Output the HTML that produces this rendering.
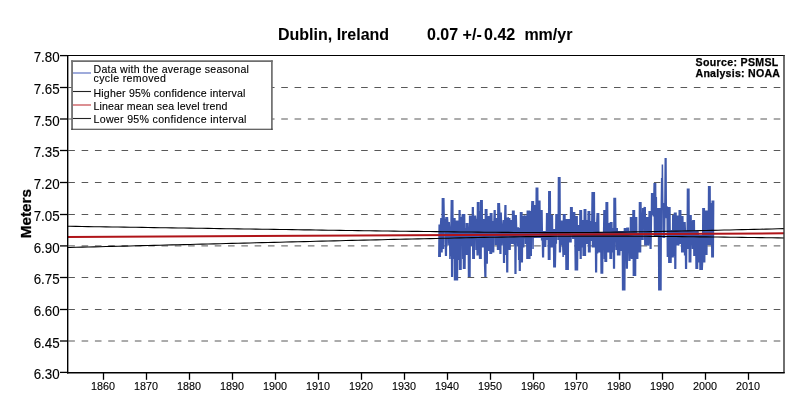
<!DOCTYPE html><html><head><meta charset="utf-8"><style>html,body{margin:0;padding:0;background:#fff;}svg{display:block;will-change:transform}text{font-family:"Liberation Sans",Arial,sans-serif;stroke:#000;stroke-width:0.12px}text.b{stroke-width:0.25px}text.t{stroke-width:0.06px}</style></head><body>
<svg width="800" height="400" viewBox="0 0 800 400">
<rect width="800" height="400" fill="#fff"/>
<line x1="68.3" y1="87.5" x2="783" y2="87.5" stroke="#585858" stroke-width="1" stroke-dasharray="6.6 6.71"/>
<line x1="68.3" y1="119.0" x2="783" y2="119.0" stroke="#585858" stroke-width="1" stroke-dasharray="6.6 6.71"/>
<line x1="68.3" y1="150.5" x2="783" y2="150.5" stroke="#585858" stroke-width="1" stroke-dasharray="6.6 6.71"/>
<line x1="68.3" y1="182.5" x2="783" y2="182.5" stroke="#585858" stroke-width="1" stroke-dasharray="6.6 6.71"/>
<line x1="68.3" y1="214.5" x2="783" y2="214.5" stroke="#585858" stroke-width="1" stroke-dasharray="6.6 6.71"/>
<line x1="68.3" y1="245.9" x2="783" y2="245.9" stroke="#585858" stroke-width="1" stroke-dasharray="6.6 6.71"/>
<line x1="68.3" y1="277.5" x2="783" y2="277.5" stroke="#585858" stroke-width="1" stroke-dasharray="6.6 6.71"/>
<line x1="68.3" y1="309.5" x2="783" y2="309.5" stroke="#585858" stroke-width="1" stroke-dasharray="6.6 6.71"/>
<line x1="68.3" y1="341.0" x2="783" y2="341.0" stroke="#585858" stroke-width="1" stroke-dasharray="6.6 6.71"/>
<polyline points="438.80,256.9 439.16,224.4 439.52,256.9 439.88,224.4 440.23,256.9 440.59,224.4 440.95,218.0 441.31,252.5 441.67,218.0 442.03,252.5 442.38,198.0 442.74,249.0 443.10,198.0 443.46,249.0 443.82,198.0 444.18,218.8 444.53,231.5 444.89,218.8 445.25,238.4 445.61,256.0 445.97,217.0 446.33,256.0 446.68,217.0 447.04,229.1 447.40,217.0 447.76,222.0 448.12,245.6 448.48,222.0 448.83,242.8 449.19,222.0 449.55,228.0 449.91,259.0 450.27,228.0 450.63,256.2 450.98,228.0 451.34,200.0 451.70,277.0 452.06,200.0 452.42,277.0 452.78,200.0 453.13,259.0 453.49,218.0 453.85,259.0 454.21,218.0 454.57,280.6 454.93,218.0 455.28,280.6 455.64,222.0 456.00,280.6 456.36,220.6 456.72,280.6 457.08,220.6 457.43,280.6 457.79,220.6 458.15,260.0 458.51,220.6 458.87,260.0 459.23,210.0 459.58,270.0 459.94,210.0 460.30,270.0 460.66,217.0 461.02,270.0 461.38,217.0 461.73,227.1 462.09,217.0 462.45,214.0 462.81,259.0 463.17,214.0 463.53,269.0 463.88,214.0 464.24,269.0 464.60,214.0 464.96,269.0 465.32,236.5 465.68,228.0 466.03,255.0 466.39,223.0 466.75,255.0 467.11,223.0 467.47,255.0 467.83,223.0 468.18,230.0 468.54,277.0 468.90,230.0 469.26,277.0 469.62,215.6 469.98,277.0 470.33,215.6 470.69,246.0 471.05,215.6 471.41,246.0 471.77,215.6 472.13,246.0 472.48,207.0 472.84,259.0 473.20,207.0 473.56,259.0 473.92,215.6 474.28,259.0 474.63,215.6 474.99,239.8 475.35,215.6 475.71,219.0 476.07,250.0 476.43,219.0 476.78,232.0 477.14,255.6 477.50,202.0 477.86,255.6 478.22,202.0 478.58,250.0 478.93,202.0 479.29,250.0 479.65,259.0 480.01,211.0 480.37,259.0 480.73,200.0 481.08,259.0 481.44,200.0 481.80,247.5 482.16,200.0 482.52,247.5 482.88,219.0 483.23,247.5 483.59,219.0 483.95,238.8 484.31,219.0 484.67,265.2 485.03,277.0 485.38,209.0 485.74,277.0 486.10,209.0 486.46,263.8 486.82,209.0 487.18,263.8 487.53,225.0 487.89,251.0 488.25,216.0 488.61,251.0 488.97,216.0 489.33,251.0 489.68,216.0 490.04,254.0 490.40,213.0 490.76,254.0 491.12,213.0 491.48,254.0 491.83,213.0 492.19,252.5 492.55,221.0 492.91,252.5 493.27,221.0 493.63,252.5 493.98,221.0 494.34,210.0 494.70,230.5 495.06,210.0 495.42,245.0 495.78,218.0 496.13,245.0 496.49,218.0 496.85,245.0 497.21,218.0 497.57,250.0 497.93,203.0 498.28,250.0 498.64,203.0 499.00,250.0 499.36,203.0 499.72,212.5 500.08,254.0 500.43,212.5 500.79,254.0 501.15,212.5 501.51,225.0 501.87,245.4 502.23,225.0 502.58,243.5 502.94,225.0 503.30,220.0 503.66,263.0 504.02,220.0 504.38,263.0 504.73,220.0 505.09,205.0 505.45,255.0 505.81,205.0 506.17,255.0 506.53,217.5 506.88,272.5 507.24,217.5 507.60,272.5 507.96,217.5 508.32,218.0 508.68,249.8 509.03,218.0 509.39,250.0 509.75,218.0 510.11,250.0 510.47,220.0 510.83,244.0 511.18,220.0 511.54,244.0 511.90,220.0 512.26,244.0 512.62,210.6 512.98,244.0 513.33,210.6 513.69,244.0 514.05,210.6 514.41,245.6 514.77,215.0 515.13,274.0 515.48,215.0 515.84,274.0 516.20,215.0 516.56,228.0 516.92,241.4 517.28,228.0 517.63,246.6 517.99,228.0 518.35,228.0 518.71,260.0 519.07,228.0 519.43,271.0 519.78,228.0 520.14,271.0 520.50,212.0 520.86,262.5 521.22,212.0 521.58,262.5 521.93,212.0 522.29,262.5 522.65,216.0 523.01,247.5 523.37,216.0 523.73,247.5 524.08,216.0 524.44,215.6 524.80,238.6 525.16,215.6 525.52,244.0 525.88,215.6 526.23,244.0 526.59,215.6 526.95,259.0 527.31,210.6 527.67,259.0 528.03,210.6 528.38,259.0 528.74,210.6 529.10,259.0 529.46,210.6 529.82,259.0 530.18,211.0 530.53,256.0 530.89,211.0 531.25,256.0 531.61,211.0 531.97,201.0 532.33,229.3 532.68,201.0 533.04,249.0 533.40,201.0 533.76,238.0 534.12,205.0 534.48,238.0 534.83,205.0 535.19,238.0 535.55,205.0 535.91,238.0 536.27,187.5 536.63,238.0 536.98,187.5 537.34,238.0 537.70,187.5 538.06,238.0 538.42,200.6 538.78,238.0 539.13,200.6 539.49,238.0 539.85,200.6 540.21,238.0 540.57,215.0 540.93,238.0 541.28,210.0 541.64,240.6 542.00,210.0 542.36,238.6 542.72,257.5 543.08,231.0 543.43,257.5 543.79,231.0 544.15,247.0 544.51,231.0 544.87,247.0 545.23,231.0 545.58,247.0 545.94,231.0 546.30,240.0 546.66,213.0 547.02,240.0 547.38,213.0 547.73,240.0 548.09,213.0 548.45,260.0 548.81,191.0 549.17,260.0 549.53,191.0 549.88,260.0 550.24,191.0 550.60,247.5 550.96,215.0 551.32,247.5 551.68,215.0 552.03,247.5 552.39,215.0 552.75,247.5 553.11,233.4 553.47,229.0 553.83,267.5 554.18,229.0 554.54,267.5 554.90,229.0 555.26,267.5 555.62,249.0 555.98,214.0 556.33,243.7 556.69,214.0 557.05,223.9 557.41,214.0 557.77,219.7 558.13,240.0 558.48,177.0 558.84,240.0 559.20,177.0 559.56,252.5 559.92,177.0 560.28,252.5 560.63,245.0 560.99,220.6 561.35,245.0 561.71,220.6 562.07,245.0 562.43,220.6 562.78,246.8 563.14,257.0 563.50,214.0 563.86,255.0 564.22,214.0 564.58,255.0 564.93,214.0 565.29,255.0 565.65,219.0 566.01,270.0 566.37,219.0 566.73,270.0 567.08,219.0 567.44,270.0 567.80,219.0 568.16,270.0 568.52,219.0 568.88,242.5 569.23,219.0 569.59,242.5 569.95,219.0 570.31,242.5 570.67,207.0 571.03,242.5 571.38,207.0 571.74,222.5 572.10,207.0 572.46,227.2 572.82,239.0 573.18,212.0 573.53,239.0 573.89,212.0 574.25,239.0 574.61,212.0 574.97,239.0 575.33,270.6 575.68,216.0 576.04,270.6 576.40,216.0 576.76,270.6 577.12,216.0 577.48,270.6 577.83,225.0 578.19,251.0 578.55,225.0 578.91,251.0 579.27,225.0 579.63,251.0 579.98,210.0 580.34,259.0 580.70,210.0 581.06,259.0 581.42,210.0 581.78,247.5 582.13,220.0 582.49,247.5 582.85,220.0 583.21,256.0 583.57,220.0 583.93,256.0 584.28,209.0 584.64,256.0 585.00,209.0 585.36,256.0 585.72,209.0 586.08,244.0 586.43,220.0 586.79,244.0 587.15,220.0 587.51,244.0 587.87,235.0 588.23,211.0 588.58,252.5 588.94,211.0 589.30,252.5 589.66,211.0 590.02,252.5 590.38,221.0 590.73,237.7 591.09,221.0 591.45,240.9 591.81,221.0 592.17,192.0 592.53,247.5 592.88,192.0 593.24,247.5 593.60,192.0 593.96,247.5 594.32,192.0 594.68,247.5 595.03,233.1 595.39,222.0 595.75,272.5 596.11,222.0 596.47,272.5 596.83,222.0 597.18,213.0 597.54,253.5 597.90,213.0 598.26,252.5 598.62,213.0 598.98,252.5 599.33,232.0 599.69,252.5 600.05,232.0 600.41,252.5 600.77,232.0 601.13,273.8 601.48,232.0 601.84,273.8 602.20,232.0 602.56,273.8 602.92,232.0 603.28,244.6 603.63,232.0 603.99,210.0 604.35,259.0 604.71,210.0 605.07,262.0 605.43,210.0 605.78,262.0 606.14,202.0 606.50,262.0 606.86,202.0 607.22,252.5 607.58,202.0 607.93,252.5 608.29,223.0 608.65,252.5 609.01,223.0 609.37,252.5 609.73,223.0 610.08,259.0 610.44,222.0 610.80,259.0 611.16,222.0 611.52,259.0 611.88,222.0 612.23,252.5 612.59,228.0 612.95,252.5 613.31,228.0 613.67,268.8 614.03,197.8 614.38,268.8 614.74,197.8 615.10,237.5 615.46,197.8 615.82,228.0 616.18,250.0 616.53,228.0 616.89,250.0 617.25,228.0 617.61,255.6 617.97,231.0 618.33,255.6 618.68,231.0 619.04,255.6 619.40,231.0 619.76,255.6 620.12,231.0 620.48,251.0 620.83,231.0 621.19,251.0 621.55,231.0 621.91,251.0 622.27,231.0 622.63,290.5 622.98,231.0 623.34,290.5 623.70,231.0 624.06,290.5 624.42,228.0 624.78,290.5 625.13,228.0 625.49,257.6 625.85,228.0 626.21,238.5 626.57,268.8 626.93,227.5 627.28,268.8 627.64,227.5 628.00,236.9 628.36,227.5 628.72,238.6 629.08,261.0 629.43,231.0 629.79,261.0 630.15,256.0 630.51,217.0 630.87,256.0 631.23,217.0 631.58,259.0 631.94,217.0 632.30,259.0 632.66,248.2 633.02,210.0 633.38,276.0 633.73,210.0 634.09,276.0 634.45,210.0 634.81,276.0 635.17,217.0 635.53,276.0 635.88,217.0 636.24,259.0 636.60,217.0 636.96,259.0 637.32,233.0 637.68,259.0 638.03,233.0 638.39,252.5 638.75,233.0 639.11,252.5 639.47,202.0 639.83,252.5 640.18,202.0 640.54,252.5 640.90,202.0 641.26,221.0 641.62,240.0 641.98,221.0 642.33,240.0 642.69,208.0 643.05,240.0 643.41,208.0 643.77,225.4 644.13,208.0 644.48,207.0 644.84,245.6 645.20,207.0 645.56,245.6 645.92,217.0 646.28,245.6 646.63,217.0 646.99,245.6 647.35,217.0 647.71,245.6 648.07,217.0 648.43,245.6 648.78,242.0 649.14,211.0 649.50,242.0 649.86,211.0 650.22,249.0 650.58,211.0 650.93,249.0 651.29,225.3 651.65,193.0 652.01,209.7 652.37,193.0 652.73,215.2 653.08,193.0 653.44,216.5 653.80,201.0 654.16,183.0 654.52,237.0 654.88,183.0 655.23,237.0 655.59,183.0 655.95,237.0 656.31,197.0 656.67,237.0 657.03,208.0 657.38,237.0 657.74,208.0 658.10,237.0 658.46,208.0 658.82,290.5 659.18,208.0 659.53,290.5 659.89,208.0 660.25,290.5 660.61,212.0 660.97,290.5 661.33,202.6 661.68,178.0 662.04,205.0 662.40,164.4 662.76,204.9 663.12,238.0 663.48,203.0 663.83,238.0 664.19,203.0 664.55,238.0 664.91,203.0 665.27,158.0 665.63,217.4 665.98,158.0 666.34,218.3 666.70,207.0 667.06,207.0 667.42,257.0 667.78,207.0 668.13,257.0 668.49,207.0 668.85,263.0 669.21,207.0 669.57,263.0 669.93,207.0 670.28,263.0 670.64,230.0 671.00,263.0 671.36,230.0 671.72,257.5 672.08,230.0 672.43,257.5 672.79,215.0 673.15,257.5 673.51,215.0 673.87,255.9 674.23,215.0 674.58,212.5 674.94,269.0 675.30,212.5 675.66,269.0 676.02,212.5 676.38,245.6 676.73,215.6 677.09,245.6 677.45,215.6 677.81,245.6 678.17,215.6 678.53,245.6 678.88,244.0 679.24,210.0 679.60,244.0 679.96,210.0 680.32,244.0 680.68,210.0 681.03,244.0 681.39,216.0 681.75,252.5 682.11,216.0 682.47,252.5 682.83,216.0 683.18,252.5 683.54,222.0 683.90,252.5 684.26,222.0 684.62,255.6 684.98,222.0 685.33,230.6 685.69,269.0 686.05,230.6 686.41,269.0 686.77,230.6 687.13,249.0 687.48,188.5 687.84,249.0 688.20,188.5 688.56,249.0 688.92,188.5 689.28,262.5 689.63,215.0 689.99,262.5 690.35,215.0 690.71,262.5 691.07,215.0 691.43,243.2 691.78,221.0 692.14,237.9 692.50,249.0 692.86,220.0 693.22,249.0 693.58,220.0 693.93,256.0 694.29,220.0 694.65,256.0 695.01,230.6 695.37,256.0 695.73,230.6 696.08,269.0 696.44,230.6 696.80,269.0 697.16,230.6 697.52,269.0 697.88,230.6 698.23,235.0 698.59,262.5 698.95,235.0 699.31,262.5 699.67,235.0 700.03,270.0 700.38,235.0 700.74,270.0 701.10,235.0 701.46,270.0 701.82,235.0 702.18,270.0 702.53,262.5 702.89,208.0 703.25,262.5 703.61,208.0 703.97,262.5 704.33,208.0 704.68,262.5 705.04,210.6 705.40,255.0 705.76,210.6 706.12,255.0 706.48,210.6 706.83,255.0 707.19,210.6 707.55,245.0 707.91,210.6 708.27,245.0 708.63,186.0 708.98,245.0 709.34,186.0 709.70,245.0 710.06,186.0 710.42,245.0 710.78,203.0 711.13,245.0 711.49,203.0 711.85,257.5 712.21,200.6 712.57,257.5 712.93,200.6 713.28,257.5 713.64,200.6" fill="none" stroke="#3e58ac" stroke-width="1.5" stroke-linejoin="miter" stroke-miterlimit="2"/>
<polyline points="67.5,226.28 70.0,226.32 76.0,226.41 82.0,226.50 88.0,226.59 94.0,226.69 100.0,226.78 106.0,226.87 112.0,226.96 118.0,227.05 124.0,227.14 130.0,227.23 136.0,227.32 142.0,227.41 148.0,227.50 154.0,227.60 160.0,227.69 166.0,227.78 172.0,227.87 178.0,227.96 184.0,228.05 190.0,228.14 196.0,228.23 202.0,228.32 208.0,228.41 214.0,228.50 220.0,228.59 226.0,228.68 232.0,228.77 238.0,228.86 244.0,228.95 250.0,229.03 256.0,229.12 262.0,229.21 268.0,229.30 274.0,229.39 280.0,229.48 286.0,229.57 292.0,229.65 298.0,229.74 304.0,229.83 310.0,229.92 316.0,230.00 322.0,230.09 328.0,230.18 334.0,230.26 340.0,230.35 346.0,230.43 352.0,230.52 358.0,230.60 364.0,230.69 370.0,230.77 376.0,230.85 382.0,230.94 388.0,231.02 394.0,231.10 400.0,231.18 406.0,231.26 412.0,231.34 418.0,231.42 424.0,231.50 430.0,231.57 436.0,231.65 442.0,231.72 448.0,231.79 454.0,231.87 460.0,231.93 466.0,232.00 472.0,232.07 478.0,232.13 484.0,232.19 490.0,232.25 496.0,232.30 502.0,232.36 508.0,232.40 514.0,232.45 520.0,232.49 526.0,232.52 532.0,232.55 538.0,232.57 544.0,232.59 550.0,232.60 556.0,232.60 562.0,232.59 568.0,232.58 574.0,232.55 580.0,232.52 586.0,232.48 592.0,232.44 598.0,232.38 604.0,232.32 610.0,232.25 616.0,232.17 622.0,232.08 628.0,231.99 634.0,231.90 640.0,231.80 646.0,231.69 652.0,231.58 658.0,231.47 664.0,231.35 670.0,231.24 676.0,231.11 682.0,230.99 688.0,230.86 694.0,230.74 700.0,230.61 706.0,230.47 712.0,230.34 718.0,230.21 724.0,230.07 730.0,229.93 736.0,229.80 742.0,229.66 748.0,229.52 754.0,229.38 760.0,229.24 766.0,229.09 772.0,228.95 778.0,228.81 784.0,228.66" fill="none" stroke="#000" stroke-width="1.1"/>
<polyline points="67.5,247.52 70.0,247.45 76.0,247.30 82.0,247.15 88.0,247.00 94.0,246.85 100.0,246.70 106.0,246.55 112.0,246.39 118.0,246.24 124.0,246.09 130.0,245.94 136.0,245.79 142.0,245.64 148.0,245.49 154.0,245.34 160.0,245.18 166.0,245.03 172.0,244.88 178.0,244.73 184.0,244.58 190.0,244.43 196.0,244.28 202.0,244.13 208.0,243.98 214.0,243.83 220.0,243.68 226.0,243.53 232.0,243.38 238.0,243.23 244.0,243.08 250.0,242.93 256.0,242.78 262.0,242.63 268.0,242.48 274.0,242.34 280.0,242.19 286.0,242.04 292.0,241.89 298.0,241.74 304.0,241.59 310.0,241.45 316.0,241.30 322.0,241.15 328.0,241.01 334.0,240.86 340.0,240.71 346.0,240.57 352.0,240.42 358.0,240.28 364.0,240.13 370.0,239.99 376.0,239.85 382.0,239.70 388.0,239.56 394.0,239.42 400.0,239.28 406.0,239.14 412.0,239.00 418.0,238.86 424.0,238.72 430.0,238.58 436.0,238.45 442.0,238.32 448.0,238.18 454.0,238.05 460.0,237.92 466.0,237.79 472.0,237.67 478.0,237.54 484.0,237.42 490.0,237.31 496.0,237.19 502.0,237.08 508.0,236.97 514.0,236.87 520.0,236.77 526.0,236.67 532.0,236.58 538.0,236.50 544.0,236.42 550.0,236.36 556.0,236.29 562.0,236.24 568.0,236.19 574.0,236.16 580.0,236.13 586.0,236.11 592.0,236.09 598.0,236.09 604.0,236.09 610.0,236.10 616.0,236.12 622.0,236.14 628.0,236.17 634.0,236.21 640.0,236.25 646.0,236.29 652.0,236.34 658.0,236.40 664.0,236.45 670.0,236.51 676.0,236.57 682.0,236.63 688.0,236.70 694.0,236.77 700.0,236.84 706.0,236.91 712.0,236.98 718.0,237.06 724.0,237.13 730.0,237.21 736.0,237.29 742.0,237.37 748.0,237.44 754.0,237.52 760.0,237.61 766.0,237.69 772.0,237.77 778.0,237.85 784.0,237.94" fill="none" stroke="#000" stroke-width="1.1"/>
<line x1="67.5" y1="236.9" x2="784.0" y2="233.3" stroke="#b01419" stroke-width="2.0"/>
<line x1="67" y1="55.5" x2="784.7" y2="55.5" stroke="#000" stroke-width="1.2"/>
<line x1="784.0" y1="55" x2="784.0" y2="373" stroke="#333" stroke-width="1.4"/>
<line x1="67.7" y1="55" x2="67.7" y2="373.4" stroke="#000" stroke-width="1.4"/>
<line x1="67" y1="372.7" x2="784.7" y2="372.7" stroke="#000" stroke-width="1.4"/>
<line x1="60" y1="55.60" x2="67.5" y2="55.60" stroke="#000" stroke-width="1.3"/>
<text transform="translate(59.6,62.20) scale(0.94,1)" font-size="14.2" text-anchor="end">7.80</text>
<line x1="60" y1="87.50" x2="67.5" y2="87.50" stroke="#000" stroke-width="1.3"/>
<text transform="translate(59.6,94.10) scale(0.94,1)" font-size="14.2" text-anchor="end">7.65</text>
<line x1="60" y1="119.00" x2="67.5" y2="119.00" stroke="#000" stroke-width="1.3"/>
<text transform="translate(59.6,125.60) scale(0.94,1)" font-size="14.2" text-anchor="end">7.50</text>
<line x1="60" y1="150.50" x2="67.5" y2="150.50" stroke="#000" stroke-width="1.3"/>
<text transform="translate(59.6,157.10) scale(0.94,1)" font-size="14.2" text-anchor="end">7.35</text>
<line x1="60" y1="182.50" x2="67.5" y2="182.50" stroke="#000" stroke-width="1.3"/>
<text transform="translate(59.6,189.10) scale(0.94,1)" font-size="14.2" text-anchor="end">7.20</text>
<line x1="60" y1="214.50" x2="67.5" y2="214.50" stroke="#000" stroke-width="1.3"/>
<text transform="translate(59.6,221.10) scale(0.94,1)" font-size="14.2" text-anchor="end">7.05</text>
<line x1="60" y1="245.90" x2="67.5" y2="245.90" stroke="#000" stroke-width="1.3"/>
<text transform="translate(59.6,252.50) scale(0.94,1)" font-size="14.2" text-anchor="end">6.90</text>
<line x1="60" y1="277.50" x2="67.5" y2="277.50" stroke="#000" stroke-width="1.3"/>
<text transform="translate(59.6,284.10) scale(0.94,1)" font-size="14.2" text-anchor="end">6.75</text>
<line x1="60" y1="309.50" x2="67.5" y2="309.50" stroke="#000" stroke-width="1.3"/>
<text transform="translate(59.6,316.10) scale(0.94,1)" font-size="14.2" text-anchor="end">6.60</text>
<line x1="60" y1="341.00" x2="67.5" y2="341.00" stroke="#000" stroke-width="1.3"/>
<text transform="translate(59.6,347.60) scale(0.94,1)" font-size="14.2" text-anchor="end">6.45</text>
<line x1="60" y1="372.40" x2="67.5" y2="372.40" stroke="#000" stroke-width="1.3"/>
<text transform="translate(59.6,379.00) scale(0.94,1)" font-size="14.2" text-anchor="end">6.30</text>
<line x1="103.50" y1="372.5" x2="103.50" y2="379.8" stroke="#000" stroke-width="1.3"/>
<text x="103.00" y="390.1" font-size="10.8" text-anchor="middle">1860</text>
<line x1="146.50" y1="372.5" x2="146.50" y2="379.8" stroke="#000" stroke-width="1.3"/>
<text x="146.00" y="390.1" font-size="10.8" text-anchor="middle">1870</text>
<line x1="189.50" y1="372.5" x2="189.50" y2="379.8" stroke="#000" stroke-width="1.3"/>
<text x="189.00" y="390.1" font-size="10.8" text-anchor="middle">1880</text>
<line x1="232.50" y1="372.5" x2="232.50" y2="379.8" stroke="#000" stroke-width="1.3"/>
<text x="232.00" y="390.1" font-size="10.8" text-anchor="middle">1890</text>
<line x1="275.50" y1="372.5" x2="275.50" y2="379.8" stroke="#000" stroke-width="1.3"/>
<text x="275.00" y="390.1" font-size="10.8" text-anchor="middle">1900</text>
<line x1="318.50" y1="372.5" x2="318.50" y2="379.8" stroke="#000" stroke-width="1.3"/>
<text x="318.00" y="390.1" font-size="10.8" text-anchor="middle">1910</text>
<line x1="361.50" y1="372.5" x2="361.50" y2="379.8" stroke="#000" stroke-width="1.3"/>
<text x="361.00" y="390.1" font-size="10.8" text-anchor="middle">1920</text>
<line x1="404.50" y1="372.5" x2="404.50" y2="379.8" stroke="#000" stroke-width="1.3"/>
<text x="404.00" y="390.1" font-size="10.8" text-anchor="middle">1930</text>
<line x1="447.50" y1="372.5" x2="447.50" y2="379.8" stroke="#000" stroke-width="1.3"/>
<text x="447.00" y="390.1" font-size="10.8" text-anchor="middle">1940</text>
<line x1="490.50" y1="372.5" x2="490.50" y2="379.8" stroke="#000" stroke-width="1.3"/>
<text x="490.00" y="390.1" font-size="10.8" text-anchor="middle">1950</text>
<line x1="533.50" y1="372.5" x2="533.50" y2="379.8" stroke="#000" stroke-width="1.3"/>
<text x="533.00" y="390.1" font-size="10.8" text-anchor="middle">1960</text>
<line x1="576.50" y1="372.5" x2="576.50" y2="379.8" stroke="#000" stroke-width="1.3"/>
<text x="576.00" y="390.1" font-size="10.8" text-anchor="middle">1970</text>
<line x1="619.50" y1="372.5" x2="619.50" y2="379.8" stroke="#000" stroke-width="1.3"/>
<text x="619.00" y="390.1" font-size="10.8" text-anchor="middle">1980</text>
<line x1="662.50" y1="372.5" x2="662.50" y2="379.8" stroke="#000" stroke-width="1.3"/>
<text x="662.00" y="390.1" font-size="10.8" text-anchor="middle">1990</text>
<line x1="705.50" y1="372.5" x2="705.50" y2="379.8" stroke="#000" stroke-width="1.3"/>
<text x="705.00" y="390.1" font-size="10.8" text-anchor="middle">2000</text>
<line x1="748.50" y1="372.5" x2="748.50" y2="379.8" stroke="#000" stroke-width="1.3"/>
<text x="748.00" y="390.1" font-size="10.8" text-anchor="middle">2010</text>
<text transform="translate(31.4,213.7) rotate(-90)" font-size="15.3" font-weight="bold" class="b" text-anchor="middle">Meters</text>
<text x="278.0" y="40.2" font-size="16" font-weight="bold" class="t">Dublin, Ireland</text>
<text y="40.2" font-size="16" font-weight="bold" class="t" xml:space="preserve"><tspan x="427.0">0.07 +/-</tspan><tspan x="479.6"> 0.42</tspan><tspan x="515.5">  mm/yr</tspan></text>
<text x="695.5" y="65.8" font-size="10.6" font-weight="bold" class="b" letter-spacing="0.33">Source: PSMSL</text>
<text x="695.5" y="76.7" font-size="10.6" font-weight="bold" class="b" letter-spacing="0.25">Analysis: NOAA</text>
<rect x="72" y="61" width="200" height="68.3" fill="#fff"/>
<line x1="71.2" y1="61.1" x2="272.7" y2="61.1" stroke="#6e6e6e" stroke-width="1.6"/>
<line x1="72.05" y1="60.3" x2="72.05" y2="129.8" stroke="#707070" stroke-width="1.8"/>
<line x1="271.9" y1="60.3" x2="271.9" y2="129.8" stroke="#6e6e6e" stroke-width="1.7"/>
<line x1="71.2" y1="129.25" x2="272.7" y2="129.25" stroke="#333" stroke-width="1.1"/>
<line x1="73" y1="73" x2="91" y2="73" stroke="#8797d2" stroke-width="1.6"/>
<line x1="73" y1="91.5" x2="91" y2="91.5" stroke="#222" stroke-width="1.1"/>
<line x1="73" y1="105" x2="91" y2="105" stroke="#d06a6e" stroke-width="1.5"/>
<line x1="73" y1="118.5" x2="91" y2="118.5" stroke="#222" stroke-width="1.1"/>
<text x="93.5" y="72.6" font-size="10.6" letter-spacing="0.24">Data with the average seasonal</text>
<text x="93.5" y="82.4" font-size="10.6" letter-spacing="0.35">cycle removed</text>
<text x="93.5" y="97.0" font-size="10.6" letter-spacing="0.18">Higher 95% confidence interval</text>
<text x="93.5" y="109.8" font-size="10.6" letter-spacing="0.12">Linear mean sea level trend</text>
<text x="93.5" y="122.8" font-size="10.6" letter-spacing="0.31">Lower 95% confidence interval</text>
</svg></body></html>
